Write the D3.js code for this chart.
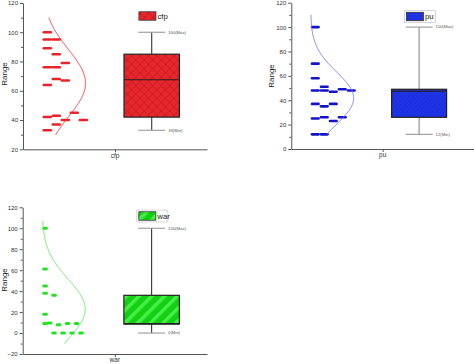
<!DOCTYPE html>
<html><head><meta charset="utf-8">
<script src="https://cdn.jsdelivr.net/npm/d3@7"></script>
<style>
body{margin:0;background:#fff}
svg{display:block;font-family:Arial,"Liberation Sans",sans-serif}
</style>
</head><body>
<svg id="chart" width="474" height="364"></svg>
<script>
// ---------- data ----------
const categories = ["cfp", "pu", "war"];
const cfpValues = [100, 95, 95, 89, 85, 76, 76, 79, 64, 68, 67, 42, 43, 40, 45, 40, 33, 37];
const puValues  = [100, 70, 58, 51, 48, 48, 47, 49, 48, 37, 35, 37, 25, 26, 23, 26, 12, 12];
const warValues = [100, 61, 45, 38, 36, 18, 9, 9.5, 0, 8, 0, 9, 0, 9, 0];
// box statistics: [min, Q1, median, Q3, max]
const cfpBox = [33, 42, 67.5, 85, 100];
const puBox  = [12, 26, 47.5, 49, 100];
const warBox = [0, 8.5, 9, 36, 100];
// range over which the normal curve is drawn
const cfpCurveRange = [30, 110];
const puCurveRange  = [12, 110];
const warCurveRange = [-10, 107];
// y tick labels
const cfpTicks = [20, 40, 60, 80, 100, 120];
const puTicks  = [0, 20, 40, 60, 80, 100, 120];
const warTicks = [-20, 0, 20, 40, 60, 80, 100, 120];
const maxLabel = "(Max)", minLabel = "(Min)";
const yTitle = "Range";

// ---------- layout / style ----------
const panels = [
  {name: categories[0], values: cfpValues, box: cfpBox, curve: cfpCurveRange, ticks: cfpTicks,
   x0: 23, x1: 207, yBottom: 149.3, yTop: 3,
   dash: "#e8232b", curveColor: "#e8383d", fill: "url(#hatchRed)", stem: "#333",
   dashW: 9.6, dashH: 2.5, legendY: 16, legendFrame: false, titleX: 6.5, titleY: 74},
  {name: categories[1], values: puValues, box: puBox, curve: puCurveRange, ticks: puTicks,
   x0: 291.3, x1: 474, yBottom: 149, yTop: 2.7,
   dash: "#1212c8", curveColor: "#6b78e6", fill: "url(#hatchBlue)", stem: "#888",
   dashW: 9.2, dashH: 2.6, legendY: 16.5, legendFrame: true, titleX: 273.5, titleY: 76},
  {name: categories[2], values: warValues, box: warBox, curve: warCurveRange, ticks: warTicks,
   x0: 22.7, x1: 207, yBottom: 354, yTop: 207.3,
   dash: "#22e422", curveColor: "#58e858", fill: "url(#hatchGreen)", stem: "#333",
   dashW: 5.7, dashH: 3, legendY: 216, legendFrame: true, titleX: 6.5, titleY: 280}
];

const svg = d3.select("#chart");
const defs = svg.append("defs");

// patterns
(function(){
  const r = defs.append("pattern").attr("id","hatchRed").attr("patternUnits","userSpaceOnUse")
    .attr("width",6).attr("height",6).attr("patternTransform","rotate(45)");
  r.append("rect").attr("width",6).attr("height",6).attr("fill","#e8262b");
  r.append("line").attr("x1",0).attr("y1",0).attr("x2",0).attr("y2",6).attr("stroke","#a81a1f").attr("stroke-width",0.9);
  r.append("line").attr("x1",0).attr("y1",0).attr("x2",6).attr("y2",0).attr("stroke","#a81a1f").attr("stroke-width",0.9);
  const b = defs.append("pattern").attr("id","hatchBlue").attr("patternUnits","userSpaceOnUse")
    .attr("width",3).attr("height",3).attr("patternTransform","rotate(45)");
  b.append("rect").attr("width",3).attr("height",3).attr("fill","#1f33e8");
  b.append("line").attr("x1",0).attr("y1",0).attr("x2",0).attr("y2",3).attr("stroke","#1726b8").attr("stroke-width",0.7);
  const g = defs.append("pattern").attr("id","hatchGreen").attr("patternUnits","userSpaceOnUse")
    .attr("width",9).attr("height",9).attr("patternTransform","rotate(45)");
  g.append("rect").attr("width",9).attr("height",9).attr("fill","#12d012");
  g.append("rect").attr("width",3.5).attr("height",9).attr("fill","#48ee48");
})();

panels.forEach(p => {
  const g = svg.append("g");
  const y = d3.scaleLinear().domain([p.ticks[0], p.ticks[p.ticks.length-1]]).range([p.yBottom, p.yTop]);
  const x = d3.scaleLinear().domain([0, 1]).range([p.x0, p.x1]);
  const xc = d3.scalePoint().domain([p.name]).range([p.x0, p.x1]).padding(0.5);

  // minor ticks
  const minor = d3.range(p.ticks[0], p.ticks[p.ticks.length-1] + 0.001, 10).filter(v => !p.ticks.includes(v));
  g.append("g").attr("transform", `translate(${p.x0},0)`)
    .call(d3.axisLeft(y).tickValues(minor).tickSize(2).tickFormat(""))
    .call(a => a.select(".domain").remove())
    .call(a => a.selectAll("line").attr("stroke","#555"));
  // left axis
  g.append("g").attr("transform", `translate(${p.x0},0)`)
    .call(d3.axisLeft(y).tickValues(p.ticks).tickSize(3).tickSizeOuter(0).tickPadding(2))
    .call(a => a.select(".domain").attr("stroke","#555"))
    .call(a => a.selectAll("line").attr("stroke","#555"))
    .call(a => a.selectAll("text").attr("font-size",6).attr("fill","#333").attr("font-family","Arial, Liberation Sans, sans-serif"));
  // bottom axis
  g.append("g").attr("transform", `translate(0,${p.yBottom})`)
    .call(d3.axisBottom(xc).tickSize(3).tickSizeOuter(0).tickFormat(""))
    .call(a => a.select(".domain").attr("stroke","#555"))
    .call(a => a.selectAll("line").attr("stroke","#555"));
  g.append("text").attr("x", xc(p.name)).attr("y", p.yBottom + 8.4)
    .attr("text-anchor","middle").attr("font-size",6.5).attr("fill","#333").text(p.name);
  // y title
  g.append("text").attr("transform", `translate(${p.titleX},${p.titleY}) rotate(-90)`)
    .attr("text-anchor","middle").attr("font-size",8).attr("fill","#222").text(yTitle);

  // jittered points: group into bins of 10, spread within each bin
  const dashStart = x(0.106);
  const bins = new Map();
  const pts = p.values.map(v => {
    const k = Math.floor(v / 10);
    if (!bins.has(k)) bins.set(k, []);
    const arr = bins.get(k); arr.push(v);
    return {v, k, i: arr.length - 1};
  });
  pts.forEach(d => {
    const n = bins.get(d.k).length;
    const step = n > 1 ? Math.min(9, 36 / (n - 1)) : 9;
    d.x = dashStart + d.i * step;
  });
  g.selectAll("rect.pt").data(pts).join("rect").attr("class","pt")
    .attr("x", d => d.x).attr("y", d => y(d.v) - p.dashH/2)
    .attr("width", p.dashW).attr("height", p.dashH).attr("rx", p.dashH/2)
    .attr("fill", p.dash);

  // normal curve
  const mean = d3.mean(p.values), sd = d3.deviation(p.values);
  const amp = 43;
  const samples = d3.range(p.curve[0], p.curve[1] + 0.01, 0.5);
  const line = d3.line()
    .x(v => dashStart + amp * Math.exp(-((v - mean) ** 2) / (2 * sd * sd)))
    .y(v => y(v));
  g.append("path").datum(samples).attr("d", line).attr("fill","none")
    .attr("stroke", p.curveColor).attr("stroke-width", 0.9);

  // box
  const [mn, q1, md, q3, mx] = p.box;
  const bl = x(0.549), br = x(0.85), bc = (bl + br) / 2, cap = 13.5;
  g.append("line").attr("x1",bc).attr("x2",bc).attr("y1",y(q3)).attr("y2",y(mx)).attr("stroke",p.stem).attr("stroke-width",1.1);
  g.append("line").attr("x1",bc).attr("x2",bc).attr("y1",y(q1)).attr("y2",y(mn)).attr("stroke",p.stem).attr("stroke-width",1.1);
  [mx, mn].forEach(v => {
    g.append("line").attr("x1",bc-cap).attr("x2",bc+cap).attr("y1",y(v)).attr("y2",y(v))
      .attr("stroke","#999").attr("stroke-width",1.1);
  });
  g.append("text").attr("x", bc+cap+3).attr("y", y(mx)+1.4).attr("font-size",4.2).attr("fill","#555").text(mx + maxLabel);
  g.append("text").attr("x", bc+cap+3).attr("y", y(mn)+1.4).attr("font-size",4.2).attr("fill","#555").text(mn + minLabel);
  g.append("rect").attr("x",bl).attr("y",y(q3)).attr("width",br-bl).attr("height",y(q1)-y(q3))
    .attr("fill",p.fill).attr("stroke","#222").attr("stroke-width",1.2);
  g.append("line").attr("x1",bl).attr("x2",br).attr("y1",y(md)).attr("y2",y(md)).attr("stroke","#222").attr("stroke-width",1.1);

  // legend
  const lx = x(0.63), lw = 17, lh = 8.4;
  if (p.legendFrame) {
    g.append("rect").attr("x", lx-2).attr("y", p.legendY-lh/2-1.7).attr("width", 31).attr("height", lh+3.4)
      .attr("fill","none").attr("stroke","#ccc").attr("stroke-width",0.8);
  }
  g.append("rect").attr("x", lx).attr("y", p.legendY - lh/2).attr("width", lw).attr("height", lh)
    .attr("fill", p.fill).attr("stroke","#333").attr("stroke-width",0.8);
  g.append("text").attr("x", lx + lw + 1.5).attr("y", p.legendY + 2.7)
    .attr("font-size",7.8).attr("fill","#222").text(p.name);
});
</script>
</body></html>
